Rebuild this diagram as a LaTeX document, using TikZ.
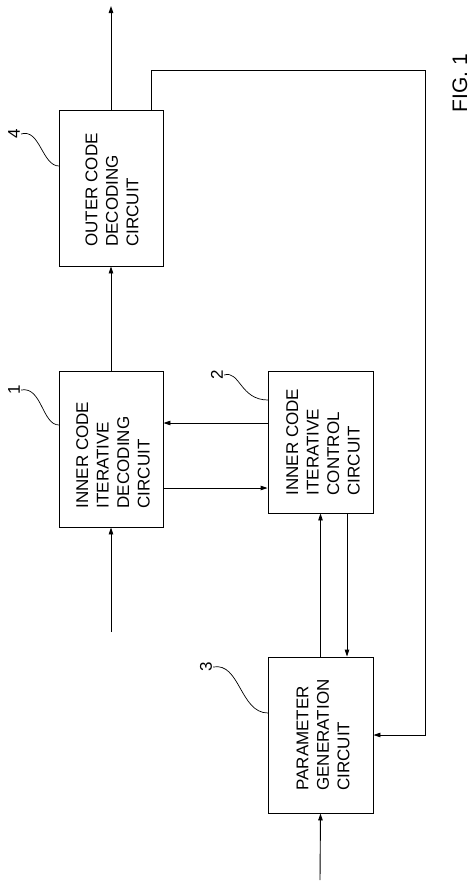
\documentclass[tikz,border=0pt]{standalone}
\usepackage{fontspec}
\setmainfont{Liberation Sans}
\usetikzlibrary{arrows.meta}
\begin{document}
\begin{tikzpicture}[x=1pt,y=-1pt,
  box/.style={draw, line width=0.9pt, minimum width=104pt, inner sep=0pt},
  txt/.style={rotate=90, align=left, inner sep=0pt, font=\fontsize{17}{20.5}\selectfont},
  num/.style={rotate=90, inner sep=1pt, font=\fontsize{17}{20}\selectfont},
  arr/.style={-{Triangle[length=7pt,width=4.5pt]}, line width=0.9pt},
  wire/.style={line width=0.9pt},
  lead/.style={line width=0.7pt}]
\useasboundingbox (0,0) rectangle (474,886);
% boxes
\node[box, minimum height=156pt] (b4) at (111,188) {};
\node[box, minimum height=156pt] (b1) at (111,449) {};
\node[box, minimum width=105pt, minimum height=142pt] (b2) at (320.5,442) {};
\node[box, minimum width=105pt, minimum height=156pt] (b3) at (320.5,735) {};
% texts
\node[txt] (t4) at (112,190) {OUTER CODE\\DECODING\\CIRCUIT};
\node[txt] (t1) at (113,455) {INNER CODE\\ITERATIVE\\DECODING\\CIRCUIT};
\node[txt] (t2) at (323,442) {INNER CODE\\ITERATIVE\\CONTROL\\CIRCUIT};
\node[txt] (t3) at (323,735) {PARAMETER\\GENERATION\\CIRCUIT};
% reference numerals
\node[num] (n4) at (14,134) {4};
\node[num] (n1) at (14,390) {1};
\node[num] (n2) at (217,375) {2};
\node[num] (n3) at (206,667) {3};
\coordinate (e4) at (59,166);
\coordinate (e1) at (59,425);
\coordinate (e2) at (268,400);
\coordinate (e3) at (268,713);
\draw[lead] (n4.south) .. controls (40,128) and (42,166) .. (e4);
\draw[lead] (n1.south) .. controls (42,386) and (42,425) .. (e1);
\draw[lead] (n2.south) .. controls (240,370) and (240,400) .. (e2);
\draw[lead] (n3.south) .. controls (240,662) and (240,713) .. (e3);
% connectors
\coordinate (out4) at (111,6);
\coordinate (in1) at (111,632);
\coordinate (in3) at (320,880);
\coordinate (fb1) at (425,70);
\coordinate (fb2) at (425,735);
\draw[arr] (b4.north) -- (out4);
\draw[arr] (b1.north) -- (b4.south);
\draw[arr] (in1) -- (b1.south);
\draw[arr] ([xshift=-12pt]b4.north east) |- (fb1) -- (fb2) -- (b3.east);
\coordinate (p21) at ([yshift=19pt]b2.west);
\draw[arr] (p21) -- (p21 -| b1.east);
\coordinate (p12) at ([yshift=-39pt]b1.east);
\draw[arr] (p12) -- (p12 -| b2.west);
\draw[arr] (b3.north) -- (b2.south);
\coordinate (p23) at ([xshift=26.5pt]b2.south);
\draw[arr] (p23) -- (p23 |- b3.north);
\draw[arr] (in3) -- (b3.south);
% figure label
\node[rotate=90, inner sep=0pt, font=\fontsize{21}{24}\selectfont] (fig) at (460,83) {FIG. 1};
\end{tikzpicture}
\end{document}
